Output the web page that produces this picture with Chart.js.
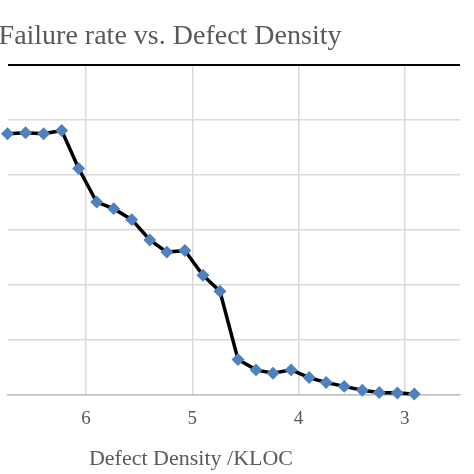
<!DOCTYPE html>
<html>
<head>
<meta charset="utf-8">
<script src="https://cdn.jsdelivr.net/npm/chart.js@4"></script>
<style>
  html, body { margin: 0; padding: 0; background: #fff; }
  #wrap { width: 474px; height: 474px; }
</style>
</head>
<body>
<div id="wrap"><canvas id="myChart"></canvas></div>
<script>
// defect density (per KLOC) and failure rate
const density = [6.74, 6.57, 6.40, 6.23, 6.07, 5.90, 5.74, 5.57, 5.40, 5.24, 5.07, 4.90, 4.74, 4.57, 4.40, 4.24, 4.07, 3.90, 3.74, 3.57, 3.40, 3.24, 3.07, 2.91];
const failureRate = [4.75, 4.77, 4.75, 4.81, 4.12, 3.51, 3.39, 3.19, 2.82, 2.60, 2.63, 2.18, 1.89, 0.65, 0.46, 0.40, 0.46, 0.32, 0.23, 0.16, 0.09, 0.05, 0.04, 0.02];
const xTicks = [6, 5, 4, 3];

const points = density.map((d, i) => ({ x: d, y: failureRate[i] }));

// title and axis title are drawn by hand, the chart is cropped on the left
const textPlugin = {
    id: 'texts',
    afterDraw(chart) {
        const ctx = chart.ctx;
        ctx.save();
        ctx.fillStyle = '#595959';
        ctx.textAlign = 'center';
        ctx.textBaseline = 'middle';
        ctx.font = '28px "Liberation Serif", serif';
        ctx.fillText('Failure rate vs. Defect Density', 170, 37);
        ctx.font = '22px "Liberation Serif", serif';
        ctx.fillText('Defect Density /KLOC', 191, 459);
        ctx.restore();
    }
};

const config = {
    type: 'line',
    data: {
        datasets: [{
            data: points,
            borderColor: '#000000',
            borderWidth: 3.5,
            pointStyle: 'rectRot',
            pointRadius: 4,
            pointBackgroundColor: '#4f81bd',
            pointBorderColor: '#4f81bd',
            tension: 0
        }]
    },
    options: {
        responsive: true,
        maintainAspectRatio: false,
        animation: false,
        clip: false,
        layout: { padding: { top: 65, right: 14, bottom: 32, left: 0 } },
        plugins: { legend: { display: false }, title: { display: false }, tooltip: { enabled: false } },
        scales: {
            x: {
                type: 'linear',
                reverse: true,
                min: 2.48,
                max: 6.74,
                afterBuildTicks: (scale) => { scale.ticks = xTicks.map(v => ({ value: v })); },
                grid: { color: '#d9d9d9', lineWidth: 1.5, drawTicks: false },
                border: { color: '#bfbfbf', width: 1.5 },
                ticks: { color: '#595959', padding: 12, font: { family: '"Liberation Serif", serif', size: 19 } }
            },
            y: {
                display: true,
                min: 0,
                max: 6,
                afterFit: (scale) => { scale.width = 0; },
                ticks: { display: false, stepSize: 1 },
                border: { display: false },
                grid: {
                    drawTicks: false,
                    color: (c) => c.tick && c.tick.value === 6 ? '#000000' : '#d9d9d9',
                    lineWidth: (c) => c.tick && c.tick.value === 6 ? 2 : 1.5
                }
            }
        }
    },
    plugins: [textPlugin]
};

const canvas = document.getElementById('myChart');
const myChart = new Chart(canvas, config);
</script>
</body>
</html>
